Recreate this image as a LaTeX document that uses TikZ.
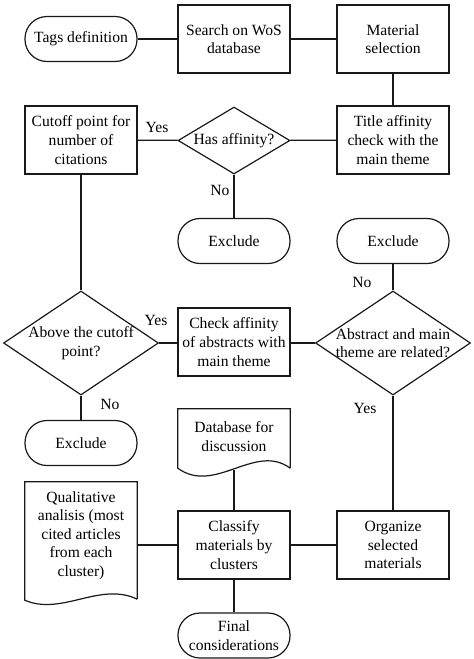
\documentclass[tikz,border=0pt]{standalone}
\usepackage{fontspec}
\setmainfont{Liberation Serif}
\usetikzlibrary{shapes.geometric}
\begin{document}
\begin{tikzpicture}[x=1pt,y=-1pt,
  every node/.style={font=\fontsize{15.6}{18.6}\selectfont, align=center, inner sep=0pt},
  ln/.style={line width=1.2pt, draw=black!90},
  box/.style={ln, draw, rectangle, minimum width=112pt, minimum height=68pt},
  term/.style={ln, draw, rectangle, rounded corners=22pt, minimum width=112pt, minimum height=45pt},
  dia/.style={ln, draw, diamond, minimum width=#1},
  doc/.style={rectangle, minimum width=112pt},
  lab/.style={font=\fontsize{15.6}{18.6}\selectfont}
]
\useasboundingbox (0,0) rectangle (474,659);

% row 1
\node[term] (tags) at (81,39) {Tags definition};
\node[box] (search) at (234,39) {Search on WoS\\database};
\node[box] (mat) at (393,39) {Material\\selection};
% row 2
\node[box] (cut) at (81,140) {Cutoff point for\\number of\\citations};
\node[dia=112pt, minimum height=67pt, label={center:Has affinity?}] (has) at (234,140.5) {};
\node[box] (title) at (393,140) {Title affinity\\check with the\\main theme};
% row 3
\node[term] (exc1) at (234,241) {Exclude};
\node[term] (exc2) at (393,241) {Exclude};
% row 4
\node[dia=155pt, minimum height=104pt, label={[align=center]center:Above the cutoff\\point?}] (above) at (81,343) {};
\node[box] (check) at (234,342) {Check affinity\\of abstracts with\\main theme};
\node[dia=155pt, minimum height=104pt, label={[align=center]center:Abstract and main\\theme are related?}] (abs) at (393,343) {};
% row 5
\node[term] (exc3) at (81,443) {Exclude};
\node[doc, minimum height=59pt, label={[align=center,yshift=2pt]center:Database for\\discussion}] (db) at (234,438.5) {};
\draw[ln] (db.south east) -- (db.north east) -- (db.north west) -- (db.south west)
  .. controls +(37,27) and +(-35,-26) .. (db.south east);
\node[doc, minimum height=117pt, label={[align=center,yshift=5pt]center:Qualitative\\analisis (most\\cited articles\\from each\\cluster)}] (qual) at (81,540.5) {};
\draw[ln] (qual.south east) -- (qual.north east) -- (qual.north west) -- ([yshift=-1pt]qual.south west)
  .. controls +(37,16) and +(-37,-18) .. (qual.south east);
\node[box] (cls) at (234,545) {Classify\\materials by\\clusters};
\node[box] (org) at (393,545) {Organize\\selected\\materials};
\node[term] (fin) at (234,635.5) {Final\\considerations};

% labels
\node[lab] (y1) at (157,127) {Yes};
\node[lab] (n1) at (220,190) {No};
\node[lab] (n2) at (362,282) {No};
\node[lab] (y2) at (156,320) {Yes};
\node[lab] (n3) at (110,404) {No};
\node[lab] (y3) at (365,408) {Yes};

% connectors
\draw[ln] (tags) -- (search);
\draw[ln] (search) -- (mat);
\draw[ln] (mat) -- (title);
\draw[ln] (title) -- (has);
\draw[ln] (has) -- (cut);
\draw[ln] (has) -- (exc1);
\draw[ln] (cut) -- (above);
\draw[ln] (above.east) -- (check.west |- above.east);
\draw[ln] (check.east |- abs.west) -- (abs.west);
\draw[ln] (abs) -- (exc2);
\draw[ln] (abs) -- (org);
\draw[ln] (above) -- (exc3);
\draw[ln] ([yshift=-2pt]db.south) -- (cls);
\draw[ln] (cls.west) -- (cls.west -| qual.east);
\draw[ln] (cls) -- (org);
\draw[ln] (cls) -- (fin);
\end{tikzpicture}
\end{document}
